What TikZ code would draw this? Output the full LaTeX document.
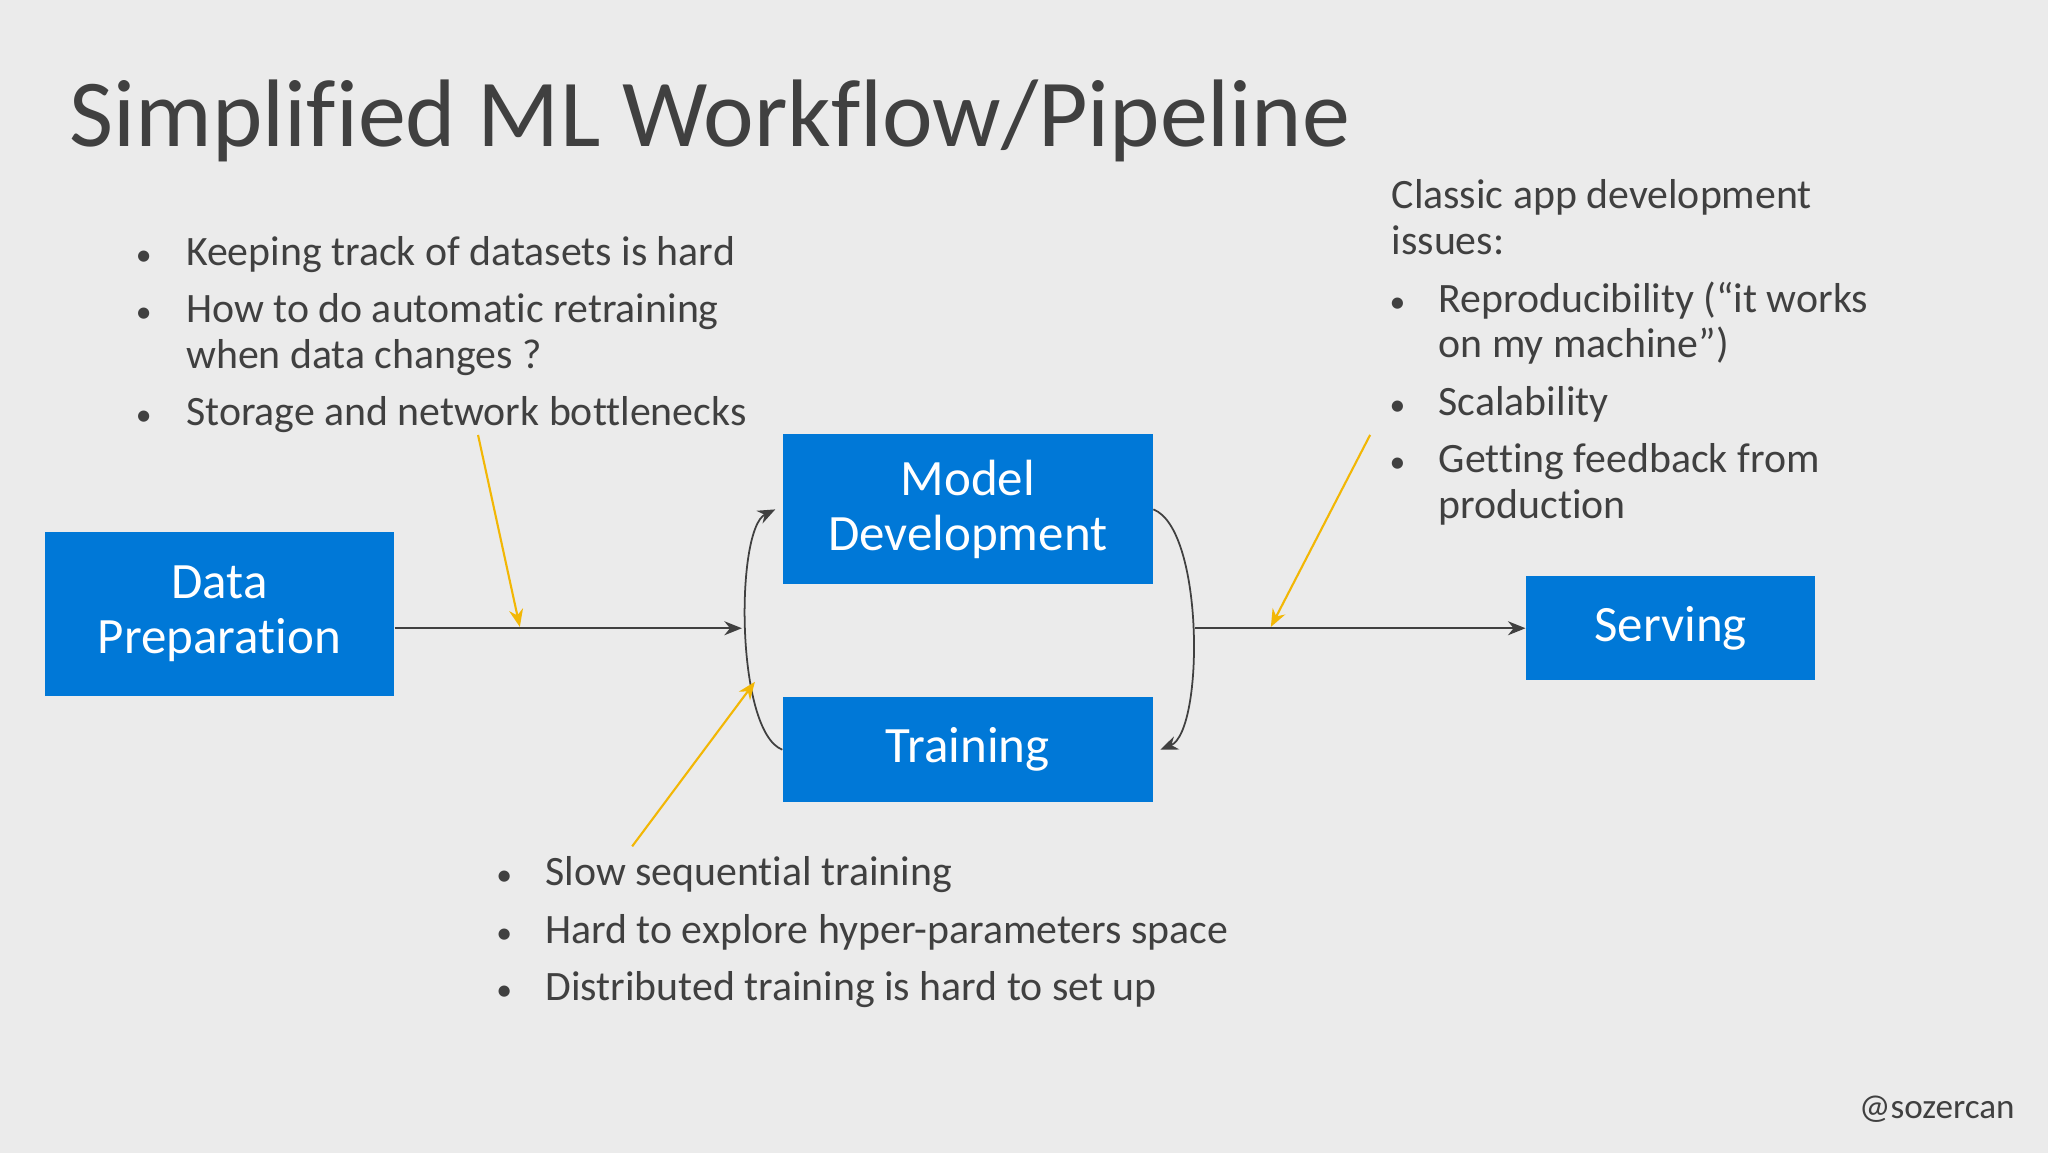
\documentclass[tikz,border=0pt]{standalone}
\usepackage{fontspec}
\setmainfont{Carlito}[RawFeature=-liga]
\usetikzlibrary{positioning,arrows.meta}
\definecolor{boxblue}{HTML}{0078D7}
\definecolor{txtgray}{HTML}{404040}
\definecolor{bggray}{HTML}{EBEBEB}
\definecolor{hint}{HTML}{F2B705}
\def\itm{\textbullet}

\begin{document}
\begin{tikzpicture}[x=0.01306cm, y=-0.01306cm, >={Stealth[width=4pt,length=5pt]},
	stage/.style={fill=boxblue, text=white, font=\fontsize{14.5}{15.5}\selectfont, align=center, inner sep=0pt},
	note/.style={text=txtgray, font=\fontsize{11.9}{14}\selectfont, anchor=base west, inner sep=0pt},
	dot/.style={text=txtgray, font=\fontsize{9}{11}\selectfont, anchor=base, inner sep=0pt},
	flow/.style={->, draw=txtgray, line width=0.5pt},
	hintarrow/.style={->, draw=hint, line width=0.6pt}]
	\fill[bggray] (0,0) rectangle (1568,883);
	\useasboundingbox (0,0) rectangle (1568,883);
	\node[text=txtgray, font=\fontsize{27.3}{32}\selectfont, anchor=base west, inner sep=0pt] (title) at (53,112){Simplified ML Workflow/Pipeline};
	% boxes
	\node[stage, minimum width=267*0.01306cm, minimum height=126*0.01306cm] (prep) at (168,470){Data\\Preparation};
	\node[stage, minimum width=283*0.01306cm, minimum height=115*0.01306cm] (mdl) at (741,390){Model\\Development};
	\node[stage, minimum width=283*0.01306cm, minimum height=80*0.01306cm] (trn) at (741,574){Training};
	\node[stage, minimum width=221*0.01306cm, minimum height=80*0.01306cm] (srv) at (1279,481){Serving};
	% connectors
	\coordinate (in) at (568,481);
	\coordinate (out) at (915,481);
	\draw[flow] (prep.east |- in) -- (in);
	\draw[flow] (trn.west) .. controls (563,560) and (563,405) .. ([xshift=-2pt]mdl.west);
	\draw[flow] (mdl.east) .. controls (922,405) and (922,560) .. ([xshift=2pt]trn.east);
	\draw[flow] (out) -- (srv.west);
	% notes
	\node[dot] (d1) at (110,203){\itm};
	\node[note] (n1) at (142,203){Keeping track of datasets is hard};
	\node[dot] (d2) at (110,247){\itm};
	\node[note] (n2) at (142,247){How to do automatic retraining};
	\node[note] (n3) at (142,282){when data changes ?};
	\node[dot] (d4) at (110,326){\itm};
	\node[note] (n4) at (142,326){Storage and network bottlenecks};
	\node[note] (c1) at (1065,160){Classic app development};
	\node[note] (c2) at (1065,195){issues:};
	\node[dot] (e1) at (1070,239){\itm};
	\node[note] (c3) at (1101,239){Reproducibility (“it works};
	\node[note] (c4) at (1101,274){on my machine”)};
	\node[dot] (e2) at (1070,318){\itm};
	\node[note] (c5) at (1101,318){Scalability};
	\node[dot] (e3) at (1070,362){\itm};
	\node[note] (c6) at (1101,362){Getting feedback from};
	\node[note] (c7) at (1101,397){production};
	\node[dot] (f1) at (386,678){\itm};
	\node[note] (t1) at (417,678){Slow sequential training};
	\node[dot] (f2) at (386,722){\itm};
	\node[note] (t2) at (417,722){Hard to explore hyper-parameters space};
	\node[dot] (f3) at (386,766){\itm};
	\node[note] (t3) at (417,766){Distributed training is hard to set up};
	\node[text=txtgray, font=\fontsize{10}{12}\selectfont, anchor=base east, inner sep=0pt] (tag) at (1543,856){@sozercan};
	% pointers
	\coordinate (p1) at (366,333); \coordinate (q1) at (398,480);
	\coordinate (p2) at (1049,333); \coordinate (q2) at (973,480);
	\coordinate (p3) at (484,648); \coordinate (q3) at (578,522);
	\draw[hintarrow] (p1) -- (q1);
	\draw[hintarrow] (p2) -- (q2);
	\draw[hintarrow] (p3) -- (q3);
\end{tikzpicture}
\end{document}
